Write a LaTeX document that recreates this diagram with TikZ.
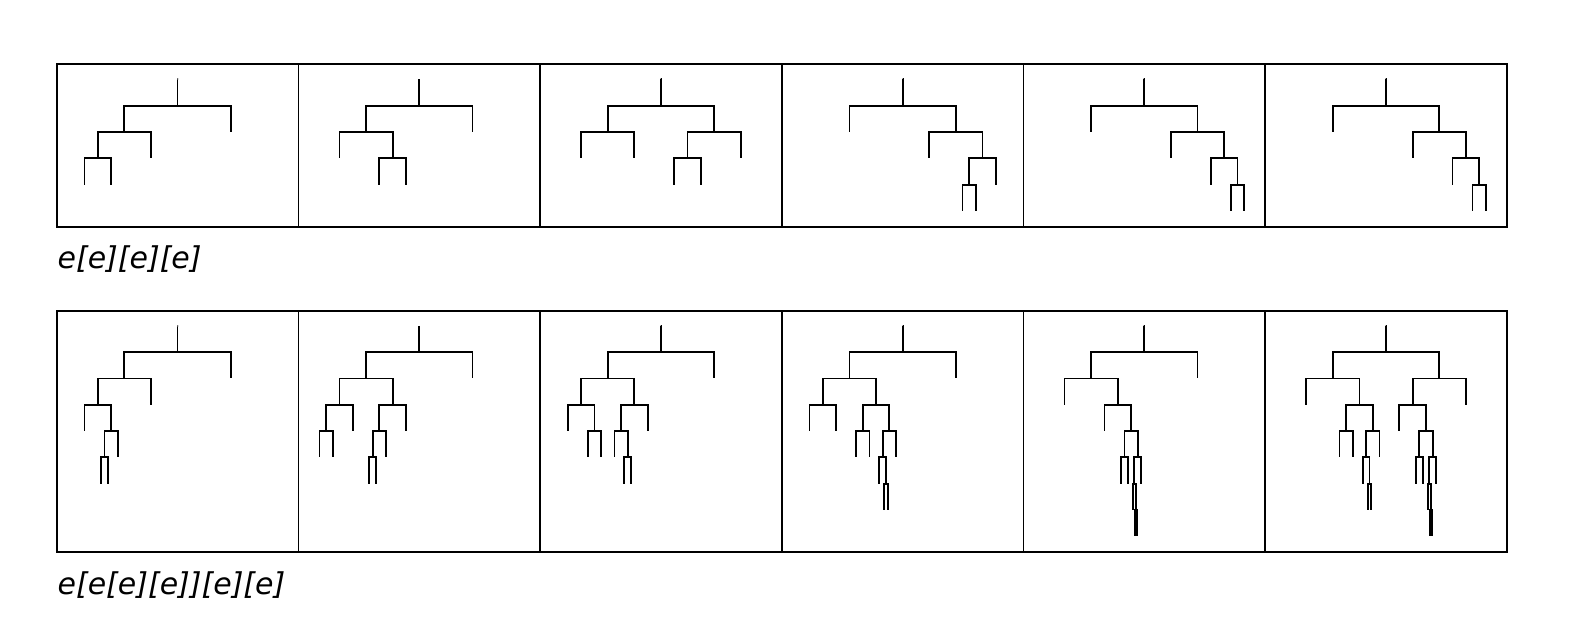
\documentclass[tikz,border=0pt]{standalone}
\usepackage{fontspec}
\usepackage{tikz}
\setmainfont{DejaVu Sans}

\begin{document}
\begin{tikzpicture}[x=1pt, y=-1pt, line width=1.8pt,
    level distance=26.3pt,
    level/.style={sibling distance=425.6pt/2^#1},
    edge from parent path={(\tikzparentnode) -| (\tikzchildnode)},
    panel/.style={draw, minimum width=241.7pt, inner sep=0pt, outer sep=0pt},
    short panel/.style={panel, minimum height=162.4pt},
    tall panel/.style={panel, minimum height=241.3pt},
    formula/.style={anchor=base west, inner sep=0pt, font=\fontsize{30}{36}\selectfont\itshape}]
    \useasboundingbox (0,0) rectangle (1588,642);

    % first row
    \node[short panel] (p11) at (177.55,145.5) {};
    \node[short panel] (p12) at (419.25,145.5) {};
    \node[short panel] (p13) at (660.95,145.5) {};
    \node[short panel] (p14) at (902.65,145.5) {};
    \node[short panel] (p15) at (1144.35,145.5) {};
    \node[short panel] (p16) at (1386.05,145.5) {};
    \node[formula] (f1) at ([yshift=-42pt]p11.south west) {e[e][e][e]};

    \coordinate (t11) at ([yshift=-15.1pt]p11.north)
      child {coordinate
        child {coordinate
          child {coordinate
            child {coordinate} child {coordinate}}
          child {coordinate}}
        child {coordinate}};
    \coordinate (t12) at ([yshift=-15.1pt]p12.north)
      child {coordinate
        child {coordinate
          child {coordinate}
          child {coordinate
            child {coordinate} child {coordinate}}}
        child {coordinate}};
    \coordinate (t13) at ([yshift=-15.1pt]p13.north)
      child {coordinate
        child {coordinate
          child {coordinate} child {coordinate}}
        child {coordinate
          child {coordinate
            child {coordinate} child {coordinate}}
          child {coordinate}}};
    \coordinate (t14) at ([yshift=-15.1pt]p14.north)
      child {coordinate
        child {coordinate}
        child {coordinate
          child {coordinate}
          child {coordinate
            child {coordinate
              child {coordinate} child {coordinate}}
            child {coordinate}}}};
    \coordinate (t15) at ([yshift=-15.1pt]p15.north)
      child {coordinate
        child {coordinate}
        child {coordinate
          child {coordinate}
          child {coordinate
            child {coordinate}
            child {coordinate
              child {coordinate} child {coordinate}}}}};
    \coordinate (t16) at ([yshift=-15.1pt]p16.north)
      child {coordinate
        child {coordinate}
        child {coordinate
          child {coordinate}
          child {coordinate
            child {coordinate}
            child {coordinate
              child {coordinate} child {coordinate}}}}};

    % second row
    \node[tall panel] (p21) at (177.55,431.35) {};
    \node[tall panel] (p22) at (419.25,431.35) {};
    \node[tall panel] (p23) at (660.95,431.35) {};
    \node[tall panel] (p24) at (902.65,431.35) {};
    \node[tall panel] (p25) at (1144.35,431.35) {};
    \node[tall panel] (p26) at (1386.05,431.35) {};
    \node[formula] (f2) at ([yshift=-42pt]p21.south west) {e[e[e][e]][e][e]};

    \coordinate (t21) at ([yshift=-15.1pt]p21.north)
      child {coordinate
        child {coordinate
          child {coordinate
            child {coordinate}
            child {coordinate
              child {coordinate
                child {coordinate} child {coordinate}}
              child {coordinate}}}
          child {coordinate}}
        child {coordinate}};
    \coordinate (t22) at ([yshift=-15.1pt]p22.north)
      child {coordinate
        child {coordinate
          child {coordinate
            child {coordinate
              child {coordinate} child {coordinate}}
            child {coordinate}}
          child {coordinate
            child {coordinate
              child {coordinate
                child {coordinate} child {coordinate}}
              child {coordinate}}
            child {coordinate}}}
        child {coordinate}};
    \coordinate (t23) at ([yshift=-15.1pt]p23.north)
      child {coordinate
        child {coordinate
          child {coordinate
            child {coordinate}
            child {coordinate
              child {coordinate} child {coordinate}}}
          child {coordinate
            child {coordinate
              child {coordinate}
              child {coordinate
                child {coordinate} child {coordinate}}}
            child {coordinate}}}
        child {coordinate}};
    \coordinate (t24) at ([yshift=-15.1pt]p24.north)
      child {coordinate
        child {coordinate
          child {coordinate
            child {coordinate} child {coordinate}}
          child {coordinate
            child {coordinate
              child {coordinate} child {coordinate}}
            child {coordinate
              child {coordinate
                child {coordinate}
                child {coordinate
                  child {coordinate} child {coordinate}}}
              child {coordinate}}}}
        child {coordinate}};
    \coordinate (t25) at ([yshift=-15.1pt]p25.north)
      child {coordinate
        child {coordinate
          child {coordinate}
          child {coordinate
            child {coordinate}
            child {coordinate
              child {coordinate
                child {coordinate} child {coordinate}}
              child {coordinate
                child {coordinate
                  child {coordinate}
                  child {coordinate
                    child {coordinate} child {coordinate}}}
                child {coordinate}}}}}
        child {coordinate}};
    \coordinate (t26) at ([yshift=-15.1pt]p26.north)
      child {coordinate
        child {coordinate
          child {coordinate}
          child {coordinate
            child {coordinate
              child {coordinate} child {coordinate}}
            child {coordinate
              child {coordinate
                child {coordinate}
                child {coordinate
                  child {coordinate} child {coordinate}}}
              child {coordinate}}}}
        child {coordinate
          child {coordinate
            child {coordinate}
            child {coordinate
              child {coordinate
                child {coordinate} child {coordinate}}
              child {coordinate
                child {coordinate
                  child {coordinate}
                  child {coordinate
                    child {coordinate} child {coordinate}}}
                child {coordinate}}}}
          child {coordinate}}};
\end{tikzpicture}
\end{document}
